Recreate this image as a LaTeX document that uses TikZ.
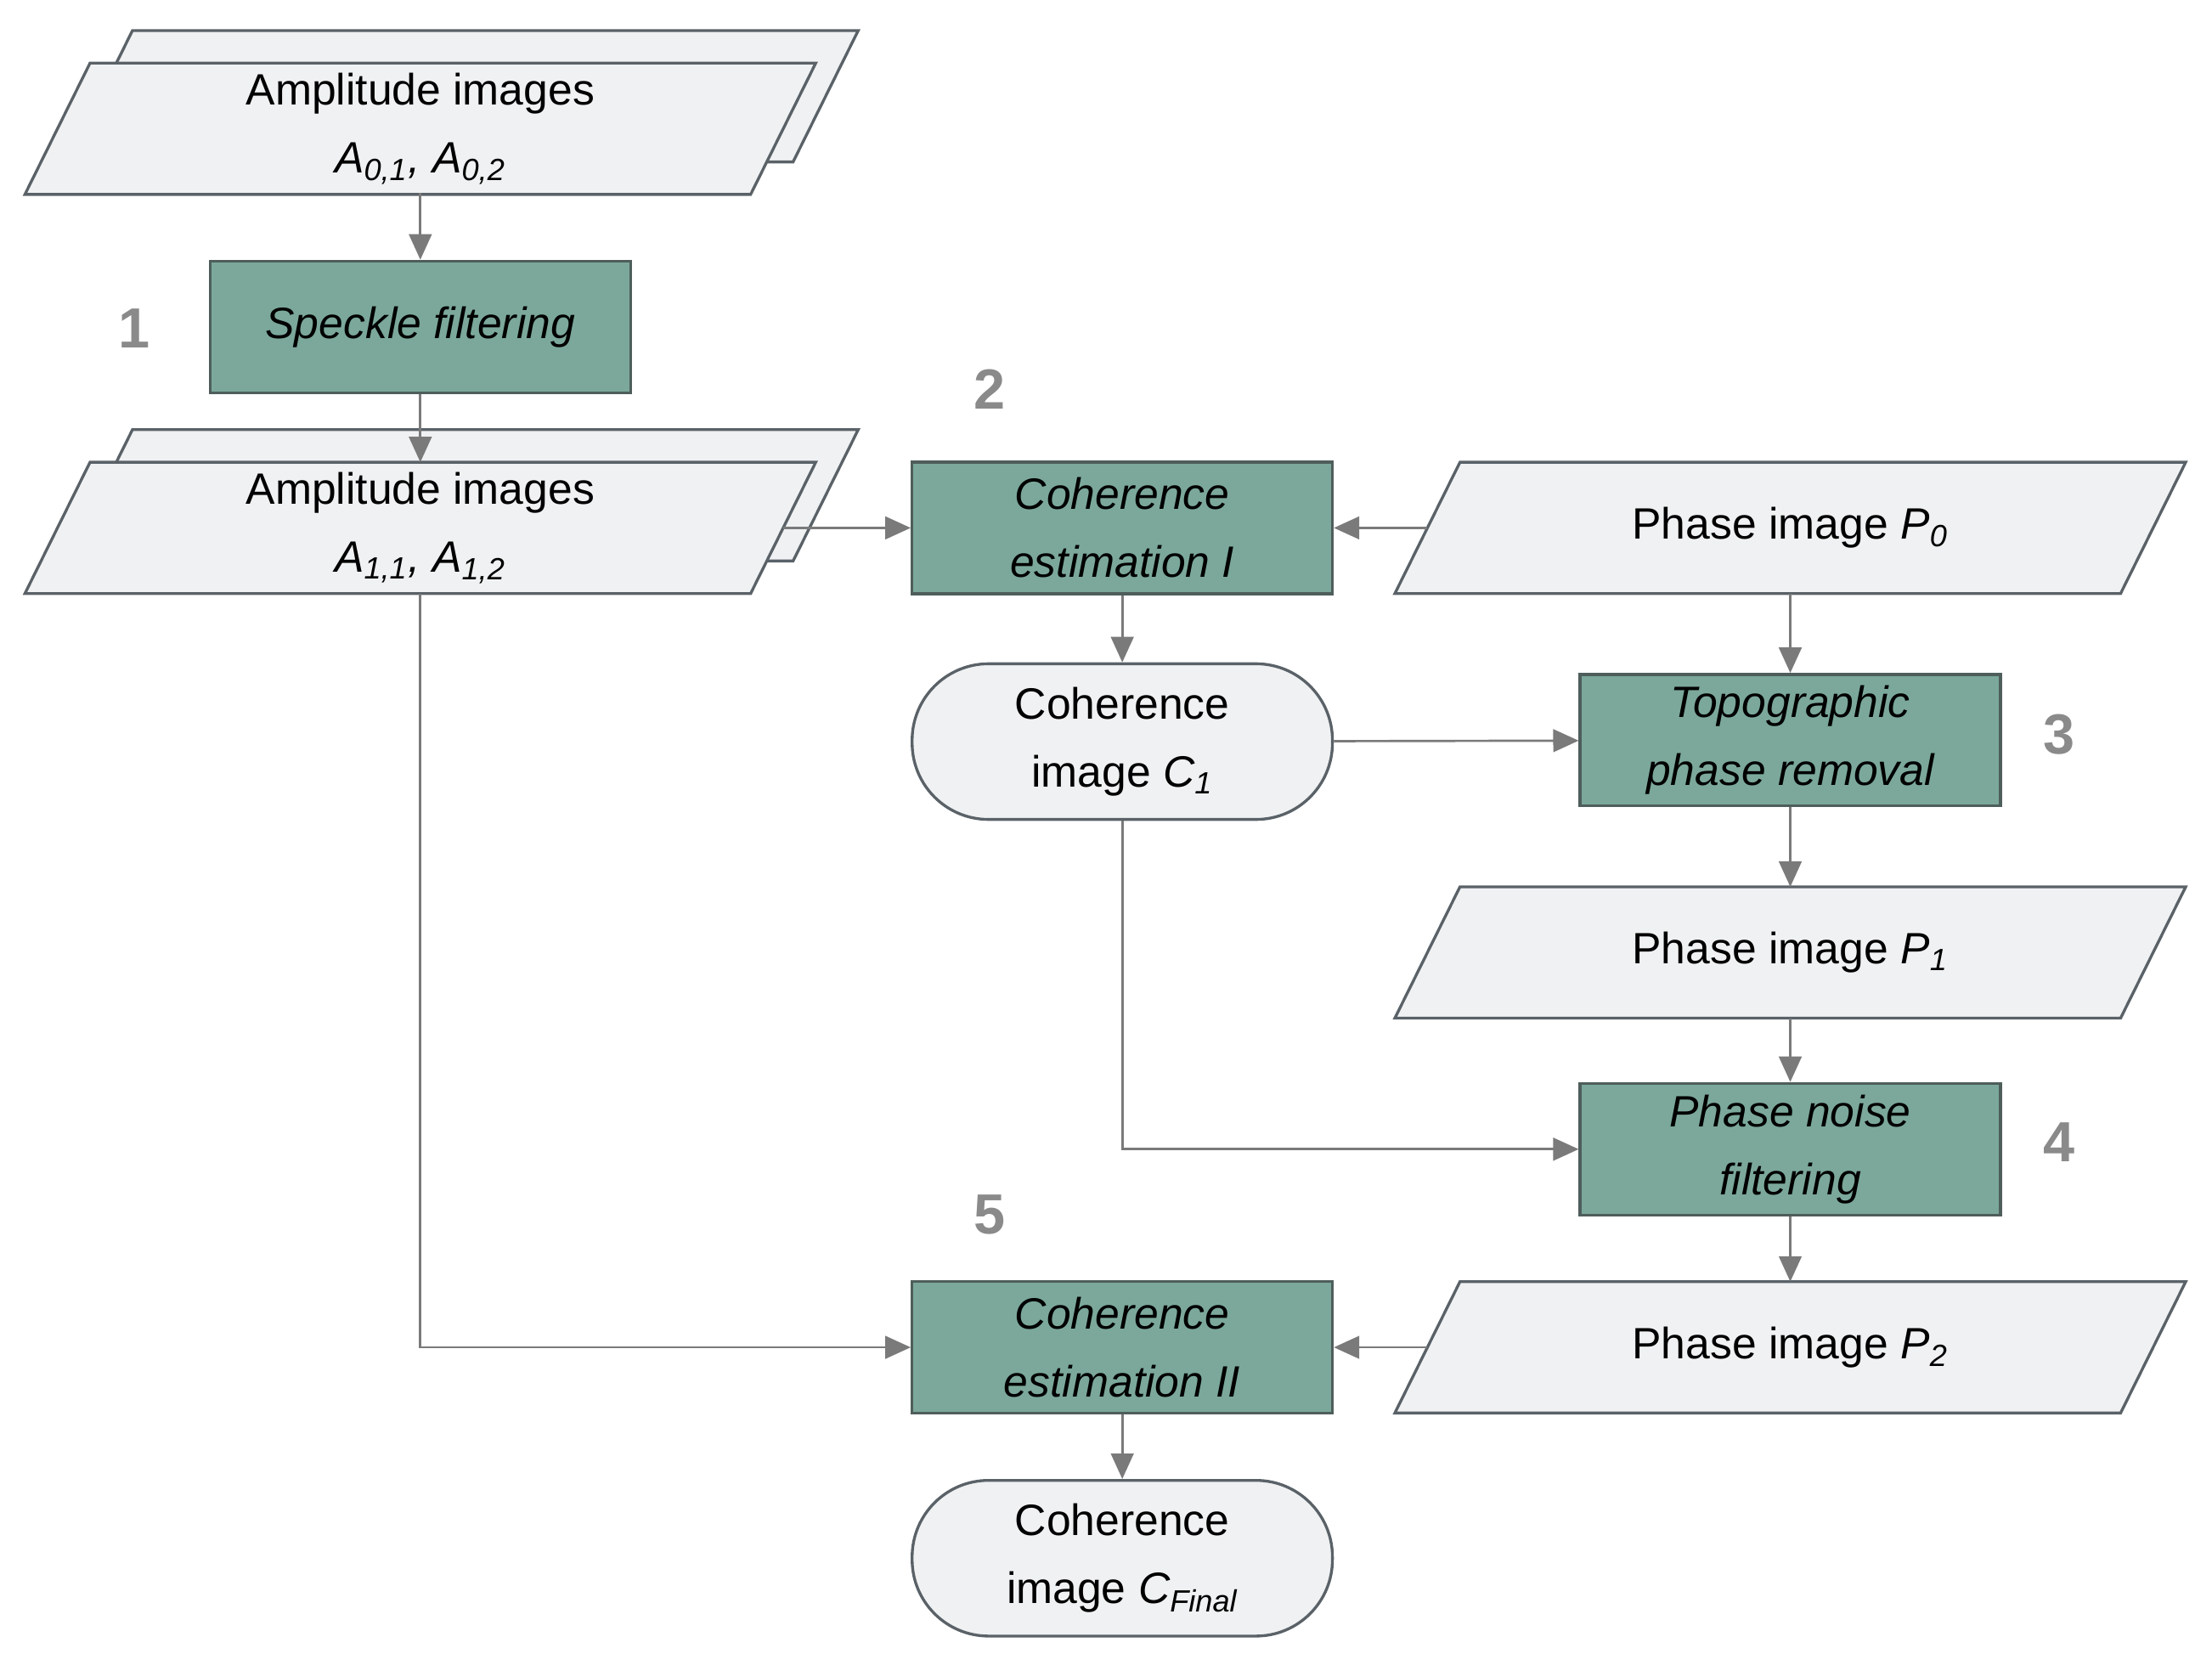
\documentclass[tikz,border=0pt]{standalone}
\usepackage{fontspec}
\setmainfont{Liberation Sans}
\usetikzlibrary{calc,arrows.meta}
\definecolor{teal}{HTML}{7BA89B}
\definecolor{tealb}{HTML}{4E5E5B}
\definecolor{pfill}{HTML}{EFF1F2}
\definecolor{pline}{HTML}{5A6268}
\definecolor{arr}{HTML}{7A7A7A}
\definecolor{num}{HTML}{8A8A8A}
\tikzset{
 base/.style={font=\fontsize{15.5}{24}\selectfont, align=center, inner sep=0pt},
 proc/.style={base, draw=tealb, line width=1pt, fill=teal, minimum width=148.5pt, minimum height=46.5pt, font=\fontsize{15.5}{24}\selectfont\itshape},
 term/.style={base, draw=pline, line width=1pt, fill=pfill, minimum width=148.5pt, minimum height=55pt, rounded corners=27pt},
 pnode/.style={base, minimum width=256pt, minimum height=46pt},
 pshape/.style={draw=pline, line width=1pt, fill=pfill},
 num/.style={font=\fontsize{20}{24}\selectfont\bfseries, text=num},
 conn/.style={draw=arr, line width=0.8pt, -{Triangle[length=9pt,width=8pt]}},
}
\newcommand\paraof[2][0,0]{%
 \path[pshape] ($(#2.north west)+(23,0)+(#1)$) -- ($(#2.north east)+(23,0)+(#1)$) -- ($(#2.south east)+(-23,0)+(#1)$) -- ($(#2.south west)+(-23,0)+(#1)$) -- cycle;}
\begin{document}
\begin{tikzpicture}[x=0.5pt,y=-0.5pt]
\useasboundingbox (0,0) rectangle (1563,1176);
% parallelogram nodes (invisible, shapes drawn below)
\path node[pnode] (A0) at (297,91) {} node[pnode] (A1) at (297,373) {}
 node[pnode] (P0) at (1265,373) {} node[pnode] (P1) at (1265,673) {}
 node[pnode] (P2) at (1265,952) {};
\paraof[30,-23]{A0}\paraof{A0}
\paraof[30,-23]{A1}\paraof{A1}
\paraof{P0}\paraof{P1}\paraof{P2}
\node[base] at (A0) {Amplitude images\\\textit{A\textsubscript{0,1}, A\textsubscript{0,2}}};
\node[base] at (A1) {Amplitude images\\\textit{A\textsubscript{1,1}, A\textsubscript{1,2}}};
\node[base] at (P0) {Phase image \textit{P\textsubscript{0}}};
\node[base] at (P1) {Phase image \textit{P\textsubscript{1}}};
\node[base] at (P2) {Phase image \textit{P\textsubscript{2}}};
\node[proc] (SF) at (297,231) {Speckle filtering};
\node[proc] (CE1) at (793,373) {Coherence\\estimation I};
\node[term] (C1) at (793,524) {Coherence\\image \textit{C\textsubscript{1}}};
\node[proc] (TP) at (1265,523) {Topographic\\phase removal};
\node[proc] (PN) at (1265,812) {Phase noise\\filtering};
\node[proc] (CE2) at (793,952) {Coherence\\estimation II};
\node[term] (CF) at (793,1101) {Coherence\\image \textit{C\textsubscript{Final}}};
\node[num] (n1) at (95,232) {1};
\node[num] (n2) at (699,275) {2};
\node[num] (n3) at (1455,519) {3};
\node[num] (n4) at (1455,807) {4};
\node[num] (n5) at (699,858) {5};
% connectors
\draw[conn] ($(A0.south)+(0,-1)$) -- (SF);
\draw[conn] (SF) -- (A1);
\draw[conn] (A1.east) -- (CE1);
\draw[conn] (P0.west) -- (CE1);
\draw[conn] (CE1) -- (C1);
\draw[conn] (P0) -- (TP);
\draw[conn] (C1) -- (TP);
\draw[conn] (TP) -- (P1);
\draw[conn] (P1) -- (PN);
\draw[conn] (C1.south) |- (PN.west);
\draw[conn] (PN) -- (P2);
\draw[conn] (P2.west) -- (CE2);
\draw[conn] (A1.south) |- (CE2.west);
\draw[conn] (CE2) -- (CF);
\end{tikzpicture}
\end{document}
